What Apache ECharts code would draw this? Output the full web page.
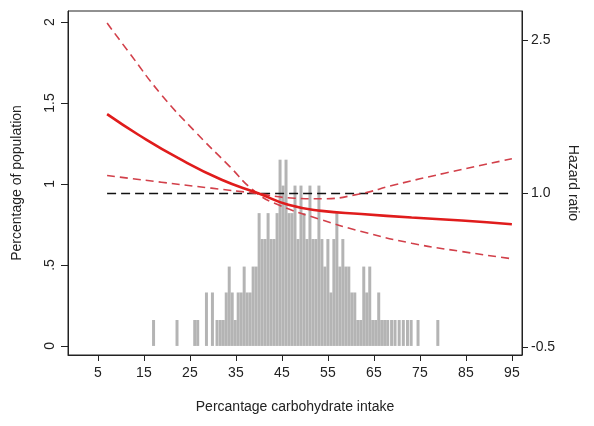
<!DOCTYPE html>
<html>
<head>
<meta charset="utf-8">
<script src="https://cdn.jsdelivr.net/npm/echarts@6.0.0/dist/echarts.min.js"></script>
<style>
  html, body { margin: 0; padding: 0; background: #fff; }
  #main { width: 594px; height: 426px; }
</style>
</head>
<body>
<div id="main"></div>
<script>
// histogram: bin centre (% carbohydrate) and percentage of population
const histX = [
  17.1, 22.2, 26.05, 26.7, 28.6, 29.9, 30.9,
  31.6, 32.25, 32.9, 33.55, 34.2, 34.85, 35.5, 36.15, 36.8, 37.45,
  38.1, 38.75, 39.4, 40.05, 40.7, 41.35, 42.0, 42.65, 43.3, 43.95,
  44.6, 45.25, 45.9, 46.55, 47.2, 47.85, 48.5, 49.15, 49.8, 50.45,
  51.1, 51.75, 52.4, 53.05, 53.7, 54.35, 55.0, 55.65, 56.3, 56.95,
  57.6, 58.25, 58.9, 59.55, 60.2, 60.85, 61.5, 62.15, 62.8, 63.45,
  64.1, 64.75, 65.4, 66.05, 66.7, 67.35, 68.0,
  68.85, 69.6, 70.5, 71.4, 72.3, 73.1, 74.6, 78.9
];
const histPct = [
  0.16, 0.16, 0.16, 0.16, 0.33, 0.33, 0.16,
  0.16, 0.16, 0.33, 0.49, 0.33, 0.16, 0.33, 0.33, 0.49, 0.33,
  0.33, 0.49, 0.49, 0.82, 0.66, 0.66, 0.82, 0.66, 0.66, 0.82,
  1.15, 0.99, 1.15, 0.82, 0.82, 0.99, 0.66, 0.99, 0.82, 0.66,
  0.99, 0.66, 0.66, 0.99, 0.66, 0.49, 0.66, 0.33, 0.66, 0.82,
  0.49, 0.66, 0.49, 0.49, 0.33, 0.33, 0.16, 0.16, 0.49, 0.33,
  0.49, 0.16, 0.16, 0.33, 0.16, 0.16, 0.16,
  0.16, 0.16, 0.16, 0.16, 0.16, 0.16, 0.16, 0.16
];
const binWidth = 0.65;

// hazard ratio curve and confidence limits, [x, HR]
const hrFit = [[7, 1.775], [13.8, 1.574], [22.5, 1.345], [31.9, 1.134], [40, 1.0],
  [46.4, 0.889], [53.6, 0.83], [62.3, 0.80], [73.2, 0.765], [84.1, 0.736], [95, 0.70]];
const hrCiA = [[7, 2.665], [11.6, 2.388], [18.8, 1.965], [26.1, 1.606], [33.3, 1.28],
  [39.1, 1.02], [44.2, 0.89], [53.6, 0.743], [62.3, 0.629], [73.2, 0.514], [84.1, 0.433], [95, 0.362]];
const hrCiB = [[7, 1.176], [18.8, 1.11], [29.7, 1.052], [39.1, 1.003], [47.8, 0.954],
  [53.6, 0.948], [61.6, 0.993], [69.6, 1.085], [80.4, 1.198], [95, 1.339]];
const refLine = [[7, 1.0], [95, 1.0]];

// tick labels
const xTicks = [5, 15, 25, 35, 45, 55, 65, 75, 85, 95];
const leftTicks = [0, 0.5, 1, 1.5, 2];
const leftTickLabels = ['0', '.5', '1', '1.5', '2'];
const rightTicks = [-0.5, 1, 2.5];
const rightTickLabels = ['-0.5', '1.0', '2.5'];

const font = 'Liberation Sans, Arial, sans-serif';
const ink = '#222';

const chart = echarts.init(document.getElementById('main'), null, { renderer: 'canvas' });

const option = {
  backgroundColor: '#fff',
  animation: false,
  grid: {
    left: 68, right: 72, top: 11, bottom: 71,
    show: true, borderColor: ink, borderWidth: 1
  },
  xAxis: {
    type: 'value',
    min: -1.5, max: 97.2,
    name: 'Percantage carbohydrate intake',
    nameLocation: 'middle',
    nameGap: 45,
    nameTextStyle: { fontFamily: font, fontSize: 14, color: ink },
    axisLine: { onZero: false, lineStyle: { color: ink } },
    axisTick: { customValues: xTicks, length: 6, lineStyle: { color: ink } },
    axisLabel: { customValues: xTicks, margin: 11, fontFamily: font, fontSize: 14, color: ink },
    splitLine: { show: false }
  },
  yAxis: [
    {
      type: 'value',
      position: 'left',
      min: -0.056, max: 2.068,
      name: 'Percentage of population',
      nameLocation: 'middle',
      nameGap: 44,
      nameTextStyle: { fontFamily: font, fontSize: 14, color: ink },
      axisLine: { show: true, onZero: false, lineStyle: { color: ink } },
      axisTick: { show: true, customValues: leftTicks, length: 7, lineStyle: { color: ink } },
      axisLabel: {
        customValues: leftTicks, rotate: 90, margin: 11,
        fontFamily: font, fontSize: 14, color: ink,
        formatter: v => leftTickLabels[leftTicks.indexOf(v)]
      },
      splitLine: { show: false }
    },
    {
      type: 'value',
      position: 'right',
      min: -0.578, max: 2.783,
      name: 'Hazard ratio',
      nameLocation: 'middle',
      nameGap: 43,
      nameRotate: -90,
      nameTextStyle: { fontFamily: font, fontSize: 14, color: ink },
      axisLine: { show: true, onZero: false, lineStyle: { color: ink } },
      axisTick: { show: true, customValues: rightTicks, length: 6, lineStyle: { color: ink } },
      axisLabel: {
        customValues: rightTicks, margin: 9,
        fontFamily: font, fontSize: 14, color: ink,
        formatter: v => rightTickLabels[rightTicks.indexOf(v)]
      },
      splitLine: { show: false }
    }
  ],
  series: [
    {
      // histogram bars
      type: 'custom',
      yAxisIndex: 0,
      data: histX.map((x, i) => [x, histPct[i]]),
      renderItem: function (params, api) {
        const x = api.value(0), h = api.value(1);
        const p0 = api.coord([x - binWidth / 2, h]);
        const p1 = api.coord([x + binWidth / 2, 0]);
        return {
          type: 'rect',
          shape: { x: p0[0], y: p0[1], width: p1[0] - p0[0], height: p1[1] - p0[1] },
          style: { fill: '#b4b4b4' }
        };
      },
      z: 1
    },
    {
      type: 'line', yAxisIndex: 1, data: refLine, showSymbol: false,
      lineStyle: { color: '#111', width: 1.5, type: [9, 5] }, z: 2
    },
    {
      type: 'line', yAxisIndex: 1, data: hrCiA, showSymbol: false, smooth: true,
      lineStyle: { color: '#d2404a', width: 1.6, type: [8, 5] }, z: 3
    },
    {
      type: 'line', yAxisIndex: 1, data: hrCiB, showSymbol: false, smooth: true,
      lineStyle: { color: '#d2404a', width: 1.6, type: [8, 5] }, z: 3
    },
    {
      type: 'line', yAxisIndex: 1, data: hrFit, showSymbol: false, smooth: true,
      lineStyle: { color: '#e01c1c', width: 2.6 }, z: 4
    }
  ]
};

chart.setOption(option);
</script>
</body>
</html>
